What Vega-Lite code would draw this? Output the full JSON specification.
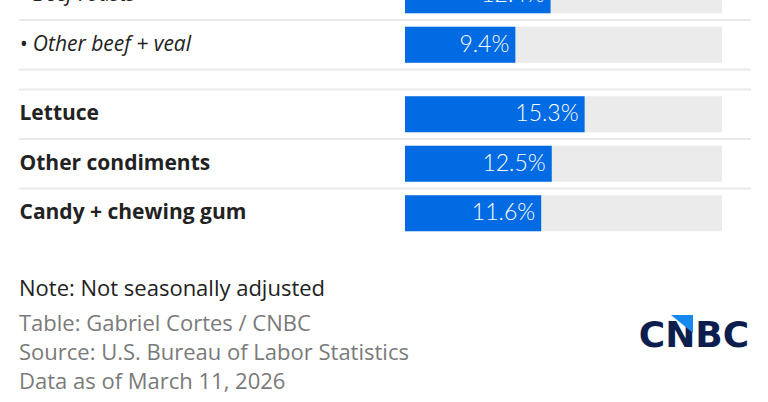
{
  "$schema": "https://vega.github.io/schema/vega-lite/v6.json",
  "padding": {"left": 18, "right": 18, "top": -29.5, "bottom": 0},
  "background": "white",
  "config": {
    "view": {"stroke": null},
    "font": "Open Sans",
    "axisY": {
      "title": null, "domain": false, "ticks": false, "tickSize": 0,
      "labelAlign": "left", "labelPadding": 0, "labelFontSize": 21,
      "labelColor": "#222222", "labelLimit": 380, "labelFont": "Open Sans"
    }
  },
  "datasets": {
    "rows": [
      {"group": "Beef", "item": "• Beef roasts", "pct": 0.124},
      {"group": "Beef", "item": "• Other beef + veal", "pct": 0.094},
      {"group": "Other", "item": "Lettuce", "pct": 0.153},
      {"group": "Other", "item": "Other condiments", "pct": 0.125},
      {"group": "Other", "item": "Candy + chewing gum", "pct": 0.116}
    ]
  },
  "spacing": 39,
  "vconcat": [
    {
      "spacing": 18,
      "vconcat": [
        {
          "width": 732,
          "height": {"step": 49.5},
          "data": {"name": "rows"},
          "transform": [{"filter": "datum.group === 'Beef'"}],
          "encoding": {
            "y": {"field": "item", "type": "nominal", "sort": null, "scale": {"padding": 0},
                  "axis": {"labelFontStyle": "italic", "labelFontWeight": "normal"}}
          },
          "layer": [
            {
              "mark": {"type": "rule", "color": "#e9e9e9", "strokeWidth": 2},
              "encoding": {"y": {"field": "item", "type": "nominal", "sort": null, "bandPosition": 1}}
            },
            {
              "mark": {"type": "bar", "color": "#ebebeb", "height": {"band": 0.73}},
              "encoding": {
                "x": {"datum": 0, "type": "quantitative", "scale": {"domain": [0, 0.27], "range": [386, 703], "nice": false}, "axis": null},
                "x2": {"datum": 0.27}
              }
            },
            {
              "mark": {"type": "bar", "color": "#006be3", "height": {"band": 0.73}},
              "encoding": {"x": {"field": "pct", "type": "quantitative", "axis": null}}
            },
            {
              "mark": {"type": "text", "align": "right", "baseline": "middle", "dx": -6, "color": "white", "fontSize": 23, "fontWeight": 300, "font": "Lato"},
              "encoding": {
                "x": {"field": "pct", "type": "quantitative", "axis": null},
                "text": {"field": "pct", "type": "quantitative", "format": ".1%"}
              }
            }
          ]
        },
        {
          "width": 732,
          "height": {"step": 49.5},
          "data": {"name": "rows"},
          "transform": [{"filter": "datum.group === 'Other'"}],
          "encoding": {
            "y": {"field": "item", "type": "nominal", "sort": null, "scale": {"padding": 0},
                  "axis": {"labelFontStyle": "normal", "labelFontWeight": "bold"}}
          },
          "layer": [
            {
              "mark": {"type": "rule", "color": "#e9e9e9", "strokeWidth": 2},
              "encoding": {"y": {"field": "item", "type": "nominal", "sort": null, "bandPosition": 0}}
            },
            {
              "mark": {"type": "bar", "color": "#ebebeb", "height": {"band": 0.73}},
              "encoding": {
                "x": {"datum": 0, "type": "quantitative", "scale": {"domain": [0, 0.27], "range": [386, 703], "nice": false}, "axis": null},
                "x2": {"datum": 0.27}
              }
            },
            {
              "mark": {"type": "bar", "color": "#006be3", "height": {"band": 0.73}},
              "encoding": {"x": {"field": "pct", "type": "quantitative", "axis": null}}
            },
            {
              "mark": {"type": "text", "align": "right", "baseline": "middle", "dx": -6, "color": "white", "fontSize": 23, "fontWeight": 300, "font": "Lato"},
              "encoding": {
                "x": {"field": "pct", "type": "quantitative", "axis": null},
                "text": {"field": "pct", "type": "quantitative", "format": ".1%"}
              }
            }
          ]
        }
      ]
    },
    {
      "title": {"text": "Note: Not seasonally adjusted", "anchor": "start", "fontSize": 22, "fontWeight": "normal", "color": "#222222", "font": "Open Sans", "offset": 9},
      "spacing": 18,
      "hconcat": [
        {
          "width": 600,
          "height": 87,
          "data": {"values": [
            {"line": "Table: Gabriel Cortes / CNBC"},
            {"line": "Source: U.S. Bureau of Labor Statistics"},
            {"line": "Data as of March 11, 2026"}
          ]},
          "mark": {"type": "text", "align": "left", "baseline": "middle", "fontSize": 22, "color": "#7a7a7a", "font": "Open Sans"},
          "encoding": {
            "y": {"field": "line", "type": "nominal", "sort": null, "axis": null, "scale": {"type": "band", "padding": 0}},
            "x": {"value": 0},
            "text": {"field": "line"}
          }
        },
        {
          "width": 114,
          "height": 53,
          "data": {"values": [{"brand": "CNBC"}]},
          "encoding": {
            "x": {"field": "brand", "type": "nominal", "axis": null, "scale": {"type": "band", "padding": 0}},
            "y": {"field": "brand", "type": "nominal", "axis": null, "scale": {"type": "band", "padding": 0}}
          },
          "layer": [
            {
              "mark": {"type": "text", "align": "center", "baseline": "middle", "fontSize": 36, "fontWeight": "bold", "color": "#0c1e4e", "font": "DejaVu Sans"},
              "encoding": {"text": {"field": "brand"}}
            },
            {
              "mark": {"type": "point", "filled": true, "color": "#1689f0", "opacity": 1, "size": 400, "shape": "M -2.3 -2.1 L -0.1 -2.1 L -0.1 -0.3 Z"}
            }
          ]
        }
      ]
    }
  ]
}
